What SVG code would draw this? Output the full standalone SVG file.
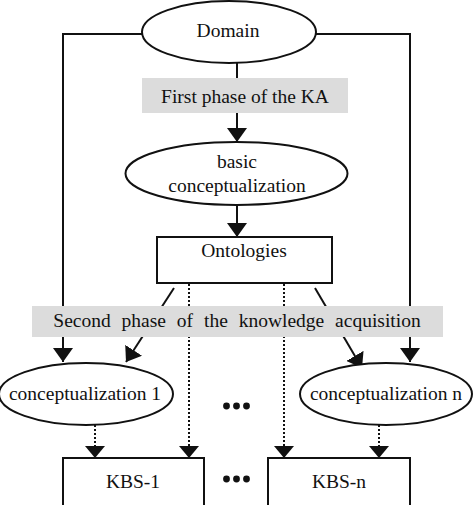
<svg xmlns="http://www.w3.org/2000/svg" width="474" height="505" viewBox="0 0 474 505">
<style>
  text { font-family: "Liberation Serif", "Times New Roman", serif; font-size: 19.5px; fill: #111; text-anchor: middle; }
  .shape { fill: #fff; stroke: #111; stroke-width: 2; }
  .band { fill: #dcdcdc; stroke: none; }
  .line { fill: none; stroke: #111; stroke-width: 2; }
  .dot { fill: none; stroke: #111; stroke-width: 2; stroke-dasharray: 2 2; }
</style>
<defs>
  <marker id="arr" viewBox="0 0 14 20" refX="14" refY="10" markerWidth="14" markerHeight="20" markerUnits="userSpaceOnUse" orient="auto">
    <path d="M0,0 L14,10 L0,20 z" fill="#111"/>
  </marker>
  <marker id="arrs" viewBox="0 0 12 20" refX="12" refY="10" markerWidth="12" markerHeight="20" markerUnits="userSpaceOnUse" orient="auto">
    <path d="M0,0 L12,10 L0,20 z" fill="#111"/>
  </marker>
</defs>
<rect width="474" height="505" fill="#fff"/>

<g id="connectors">
  <line class="line" x1="237" y1="62" x2="237" y2="80"/>
  <line class="line" x1="237" y1="112" x2="237" y2="142" marker-end="url(#arr)"/>
  <line class="line" x1="237" y1="205" x2="237" y2="237" marker-end="url(#arr)"/>
  <polyline class="line" points="142,34 63,34 63,362" marker-end="url(#arr)"/>
  <polyline class="line" points="316,34 410,34 410,362" marker-end="url(#arr)"/>
  <line class="line" x1="174" y1="288" x2="126" y2="362" marker-end="url(#arr)"/>
  <line class="line" x1="315" y1="288" x2="362" y2="368" marker-end="url(#arr)"/>
  <line class="dot" x1="189" y1="284" x2="189" y2="458" marker-end="url(#arrs)"/>
  <line class="dot" x1="284" y1="284" x2="284" y2="458" marker-end="url(#arrs)"/>
  <line class="dot" x1="95" y1="425" x2="95" y2="458" marker-end="url(#arrs)"/>
  <line class="dot" x1="379" y1="425" x2="379" y2="458" marker-end="url(#arrs)"/>
</g>

<g id="domain">
  <ellipse class="shape" cx="229" cy="32" rx="87" ry="31"/>
  <text x="228" y="37">Domain</text>
</g>

<g id="phase1">
  <rect class="band" x="142" y="78" width="206" height="35"/>
  <text x="245" y="103">First phase of the KA</text>
</g>

<g id="basic">
  <ellipse class="shape" cx="236.5" cy="173.5" rx="111" ry="31.5"/>
  <text x="237" y="168">basic</text>
  <text x="237" y="192">conceptualization</text>
</g>

<g id="ontologies">
  <rect class="shape" x="157" y="237" width="175" height="46"/>
  <text x="244" y="257">Ontologies</text>
</g>

<g id="phase2">
  <rect class="band" x="32" y="306" width="411" height="31"/>
  <text x="237" y="327" word-spacing="6">Second phase of the knowledge acquisition</text>
</g>

<g id="concept1">
  <ellipse class="shape" cx="86" cy="394" rx="87" ry="31"/>
  <text x="85" y="400">conceptualization 1</text>
</g>

<g id="conceptn">
  <ellipse class="shape" cx="386" cy="394" rx="86" ry="31"/>
  <text x="386" y="400">conceptualization n</text>
</g>

<g id="dots1">
  <circle cx="226.5" cy="406" r="3.4" fill="#111"/>
  <circle cx="236.5" cy="406" r="3.4" fill="#111"/>
  <circle cx="246.5" cy="406" r="3.4" fill="#111"/>
</g>

<g id="kbs1">
  <rect class="shape" x="63" y="458" width="141" height="60"/>
  <text x="133" y="488">KBS-1</text>
</g>

<g id="dots2">
  <circle cx="226.5" cy="479" r="3.4" fill="#111"/>
  <circle cx="236.5" cy="479" r="3.4" fill="#111"/>
  <circle cx="246.5" cy="479" r="3.4" fill="#111"/>
</g>

<g id="kbsn">
  <rect class="shape" x="268" y="458" width="142" height="60"/>
  <text x="339" y="488">KBS-n</text>
</g>
</svg>
